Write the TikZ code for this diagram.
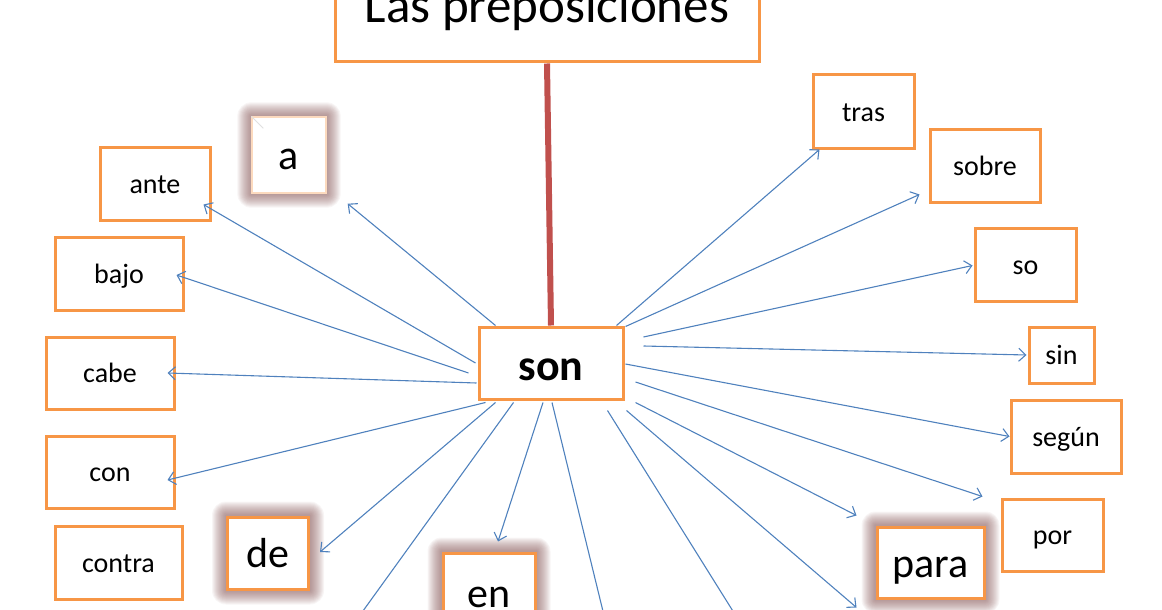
\documentclass[tikz,border=0pt]{standalone}
\usepackage{fontspec}
\setmainfont{Carlito}
\usetikzlibrary{arrows.meta,backgrounds}
\definecolor{boxorange}{RGB}{247,150,70}
\definecolor{linkblue}{RGB}{79,129,189}
\definecolor{stemred}{RGB}{192,80,77}
\definecolor{glowbrown}{RGB}{128,78,78}
\tikzset{
    every node/.style={font=\fontsize{28}{32}\selectfont},
    word/.style={draw=boxorange,line width=3pt,fill=white,inner sep=0pt,minimum height=73pt,
        text height=26.6pt,text depth=7pt},
    big word/.style={word,font=\fontsize{42}{48}\selectfont,text height=40pt,text depth=10.5pt},
    link/.style={linkblue,line width=1.1pt,-{Straight Barb[length=7pt,width=13pt]}}
}

\begin{document}
\begin{tikzpicture}[x=1pt,y=-1pt]
    \useasboundingbox (0,0) rectangle (1162,610);

    \node[word,minimum width=424pt,minimum height=114pt,font=\fontsize{51}{58}\selectfont,
        text height=48.5pt,text depth=12.7pt] (title) at (547,5) {Las preposiciones};
    \node[word,minimum width=144pt,minimum height=72pt,font=\fontsize{44}{50}\selectfont\bfseries,
        text height=45pt,text depth=11pt] (son) at (551,363) {son};

    % left side
    \node[word,minimum width=110pt] (ante) at (155,183.5) {ante};
    \node[word,minimum width=128pt] (bajo) at (119,274) {bajo};
    \node[word,minimum width=128pt,minimum height=72pt] (cabe) at (110,373) {cabe};
    \node[word,minimum width=128pt,minimum height=72pt] (con) at (110,472) {con};
    \node[word,minimum width=127pt] (contra) at (118.5,562.5) {contra};

    % right side
    \node[word,minimum width=101pt] (tras) at (863.5,111.5) {tras};
    \node[word,minimum width=110pt] (sobre) at (985,165.5) {sobre};
    \node[word,minimum width=101pt] (so) at (1025.5,264.5) {so};
    \node[word,minimum width=65pt,minimum height=56pt] (sin) at (1061.5,355) {sin};
    \node[word,minimum width=110pt] (segun) at (1066,436.5) {según};
    \node[word,minimum width=101pt,minimum height=72pt] (por) at (1052.5,535) {por};

    % glowing ones
    \node[big word,draw=boxorange!35,line width=1.4pt,minimum width=74pt,minimum height=76pt] (a) at (289,155) {a};
    \draw[black!12,line width=0.8pt] (a.north west) -- ++(12,12);
    \node[big word,minimum width=81pt,minimum height=72pt] (de) at (268,553) {de};
    \node[big word,minimum width=92pt,minimum height=80pt] (en) at (489,593) {en};
    \node[big word,minimum width=107pt,minimum height=71pt] (para) at (930.5,562.5) {para};

    \coordinate (off1) at (342,640);
    \coordinate (off2) at (610,640);
    \coordinate (off3) at (751,640);

    \begin{scope}[on background layer]
        \draw[stemred,line width=6pt] (title.south) -- (son.north);
        \foreach \n in {a,de,en,para}
            \foreach \i in {1,...,14}
                \fill[glowbrown,fill opacity=0.06,rounded corners=\i pt] ([shift={(-\i,\i)}]\n.south west) rectangle ([shift={(\i,-\i)}]\n.north east);
    \end{scope}

    \draw[link] ([shift={(-2,0)}]son.west) -- ([shift={(-8,-17)}]ante.south east);
    \draw[link] ([shift={(18,0)}]son.north west) -- ([shift={(21,10)}]a.south east);
    \draw[link] ([shift={(-9,10)}]son.west) -- ([shift={(-8,1)}]bajo.east);
    \draw[link] ([shift={(-1,20)}]son.west) -- ([shift={(-8,0)}]cabe.east);
    \draw[link] ([shift={(8,2)}]son.south west) -- ([shift={(-8,8)}]con.east);
    \draw[link] ([shift={(18,2)}]son.south west) -- ([shift={(10,-1)}]de.east);
    \draw[link] ([shift={(36,2)}]son.south west) -- (off1);
    \draw[link] ([shift={(-8,2)}]son.south) -- ([shift={(9,-10)}]en.north);
    \draw[link] ([shift={(1,2)}]son.south) -- (off2);
    \draw[link] ([shift={(-17,10)}]son.south east) -- (off3);
    \draw[link] ([shift={(2,10)}]son.south east) -- ([shift={(-19,8)}]para.south west);
    \draw[link] ([shift={(11,2)}]son.south east) -- ([shift={(-19,-10)}]para.north west);
    \draw[link] ([shift={(11,19)}]son.east) -- ([shift={(-18,-1)}]por.north west);
    \draw[link] ([shift={(1,1)}]son.east) -- (segun.west);
    \draw[link] ([shift={(19,-17)}]son.east) -- ([shift={(-1,0)}]sin.west);
    \draw[link] ([shift={(19,-26)}]son.east) -- ([shift={(-1,1)}]so.west);
    \draw[link] ([shift={(1,1)}]son.north east) -- ([shift={(-9,-9)}]sobre.south west);
    \draw[link] ([shift={(-8,0)}]son.north east) -- ([shift={(8,0)}]tras.south west);
\end{tikzpicture}
\end{document}
